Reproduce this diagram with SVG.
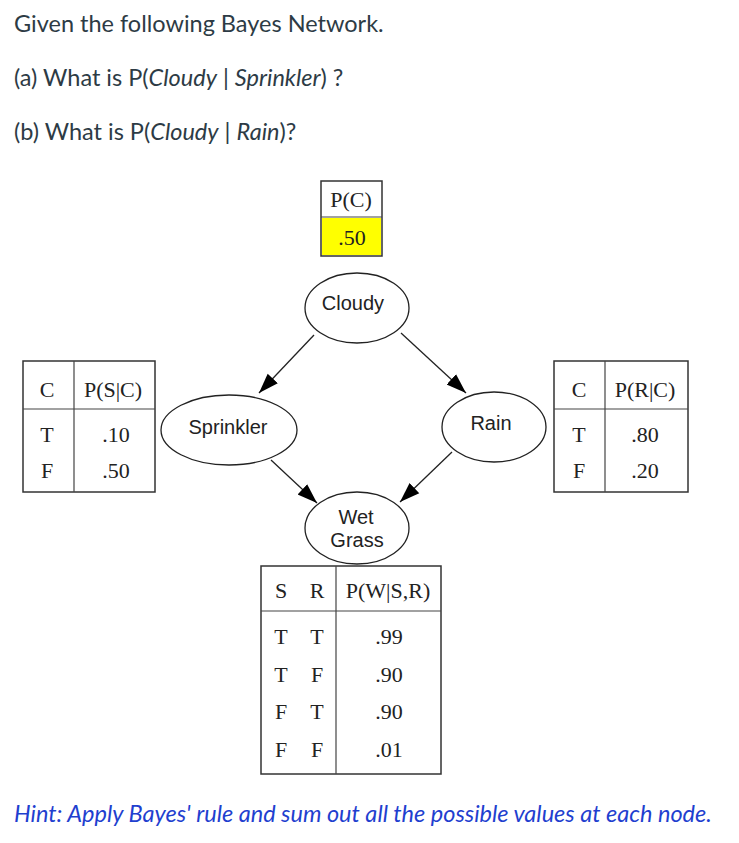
<svg xmlns="http://www.w3.org/2000/svg" width="739" height="843" viewBox="0 0 739 843">
<defs>
<marker id="ah" viewBox="0 0 10 10" refX="10" refY="5" markerWidth="20" markerHeight="20" markerUnits="userSpaceOnUse" orient="auto"><path d="M0,1.5 L10,5 L0,8.5 z" fill="#000"/></marker>
<style>
.q{font-family:Lato,"Liberation Sans",sans-serif;font-size:23.5px;fill:#2d3b45}
.n{font-family:"Liberation Sans",Arial,sans-serif;font-size:20px;fill:#222;text-anchor:middle}
.t{font-family:"Liberation Serif","Times New Roman",serif;font-size:22px;fill:#222;text-anchor:middle}
.e{fill:#fff;stroke:#222;stroke-width:1.3}
.b{fill:#fff;stroke:#333;stroke-width:1.5}
.l{stroke:#444;stroke-width:1.2}
.c{stroke:#222;stroke-width:1.3;fill:none;marker-end:url(#ah)}
</style>
</defs>
<rect width="739" height="843" fill="#fff"/>
<text class="q" x="14" y="32">Given the following Bayes Network.</text>
<text class="q" x="14" y="86">(a) What is P(<tspan font-style="italic">Cloudy</tspan> | <tspan font-style="italic">Sprinkler</tspan>) ?</text>
<text class="q" x="14" y="140">(b) What is P(<tspan font-style="italic">Cloudy</tspan> | <tspan font-style="italic">Rain</tspan>)?</text>
<g id="connectors">
<line class="c" x1="314" y1="335" x2="259" y2="393"/>
<line class="c" x1="401" y1="333" x2="466" y2="393"/>
<line class="c" x1="271" y1="460" x2="317" y2="503"/>
<line class="c" x1="452" y1="452" x2="400" y2="502"/>
</g>
<g id="pc">
<rect class="b" x="321" y="181" width="61" height="75"/>
<rect x="322" y="218" width="59" height="37" fill="#ffff00"/>
<line class="l" x1="321" y1="217" x2="382" y2="217"/>
<text class="t" x="351" y="207">P(C)</text>
<text class="t" x="352" y="245">.50</text>
</g>
<g id="cloudy"><ellipse class="e" cx="357" cy="308" rx="52" ry="35"/><text class="n" x="353" y="310">Cloudy</text></g>
<g id="sprinkler"><ellipse class="e" cx="229" cy="430" rx="68" ry="35"/><text class="n" x="228" y="434">Sprinkler</text></g>
<g id="rain"><ellipse class="e" cx="494" cy="427" rx="52" ry="35"/><text class="n" x="491" y="430">Rain</text></g>
<g id="wetgrass"><ellipse class="e" cx="357" cy="528" rx="52" ry="36"/><text class="n" x="356" y="524">Wet</text><text class="n" x="357" y="547">Grass</text></g>
<g id="psc">
<rect class="b" x="23" y="361" width="132" height="131"/>
<line class="l" x1="74" y1="361" x2="74" y2="492"/>
<line class="l" x1="23" y1="409" x2="155" y2="409"/>
<text class="t" x="47" y="397">C</text><text class="t" x="113" y="397">P(S|C)</text>
<text class="t" x="47" y="442">T</text><text class="t" x="116" y="442">.10</text>
<text class="t" x="47" y="478">F</text><text class="t" x="116" y="478">.50</text>
</g>
<g id="prc">
<rect class="b" x="554" y="361" width="134" height="131"/>
<line class="l" x1="605" y1="361" x2="605" y2="492"/>
<line class="l" x1="554" y1="409" x2="688" y2="409"/>
<text class="t" x="579" y="397">C</text><text class="t" x="645" y="397">P(R|C)</text>
<text class="t" x="579" y="442">T</text><text class="t" x="645" y="442">.80</text>
<text class="t" x="579" y="478">F</text><text class="t" x="645" y="478">.20</text>
</g>
<g id="pwsr">
<rect class="b" x="261" y="566" width="180" height="208"/>
<line class="l" x1="336" y1="566" x2="336" y2="774"/>
<line class="l" x1="261" y1="611" x2="441" y2="611"/>
<text class="t" x="281" y="598">S</text><text class="t" x="317" y="598">R</text><text class="t" x="388" y="598">P(W|S,R)</text>
<text class="t" x="281" y="644">T</text><text class="t" x="317" y="644">T</text><text class="t" x="389" y="644">.99</text>
<text class="t" x="281" y="682">T</text><text class="t" x="317" y="682">F</text><text class="t" x="389" y="682">.90</text>
<text class="t" x="281" y="719">F</text><text class="t" x="317" y="719">T</text><text class="t" x="389" y="719">.90</text>
<text class="t" x="281" y="757">F</text><text class="t" x="317" y="757">F</text><text class="t" x="389" y="757">.01</text>
</g>
<text x="14" y="822" font-family="Lato,'Liberation Sans',sans-serif" font-size="23.5" font-style="italic" fill="#1f3fcf">Hint: Apply Bayes' rule and sum out all the possible values at each node.</text>
</svg>
